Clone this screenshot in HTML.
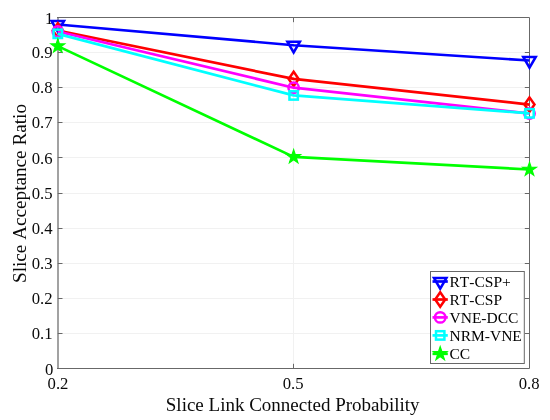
<!DOCTYPE html>
<html><head><meta charset="utf-8"><title>Slice Acceptance Ratio</title>
<style>
html,body{margin:0;padding:0;background:#fff;}
body{width:550px;height:420px;overflow:hidden;}
svg{display:block;}
text{font-family:"Liberation Serif","Times New Roman",serif;fill:#0a0a0a;font-kerning:none;}
.tk{font-size:16.7px;}
.lb{font-size:19px;}
.lg{font-size:15.5px;fill:#000;}
</style></head><body>
<svg width="550" height="420" viewBox="0 0 550 420">
<rect x="0" y="0" width="550" height="420" fill="#ffffff"/>
<g stroke="#f1f1f1" stroke-width="1"><line x1="57.8" y1="333.50" x2="529.5" y2="333.50"/><line x1="57.8" y1="298.50" x2="529.5" y2="298.50"/><line x1="57.8" y1="263.50" x2="529.5" y2="263.50"/><line x1="57.8" y1="228.50" x2="529.5" y2="228.50"/><line x1="57.8" y1="193.50" x2="529.5" y2="193.50"/><line x1="57.8" y1="157.50" x2="529.5" y2="157.50"/><line x1="57.8" y1="122.50" x2="529.5" y2="122.50"/><line x1="57.8" y1="87.50" x2="529.5" y2="87.50"/><line x1="57.8" y1="52.50" x2="529.5" y2="52.50"/><line x1="293.50" y1="17.5" x2="293.50" y2="368.5"/></g>
<line x1="58" y1="17.0" x2="58" y2="369.0" stroke="#a2a2a2" stroke-width="2"/>
<polyline points="57,17.5 529.5,17.5 529.5,368.5 57,368.5" fill="none" stroke="#686868" stroke-width="1"/>
<g stroke="#686868" stroke-width="1"><line x1="57.8" y1="333.50" x2="62.5" y2="333.50"/><line x1="529.5" y1="333.50" x2="524.8" y2="333.50"/><line x1="57.8" y1="298.50" x2="62.5" y2="298.50"/><line x1="529.5" y1="298.50" x2="524.8" y2="298.50"/><line x1="57.8" y1="263.50" x2="62.5" y2="263.50"/><line x1="529.5" y1="263.50" x2="524.8" y2="263.50"/><line x1="57.8" y1="228.50" x2="62.5" y2="228.50"/><line x1="529.5" y1="228.50" x2="524.8" y2="228.50"/><line x1="57.8" y1="193.50" x2="62.5" y2="193.50"/><line x1="529.5" y1="193.50" x2="524.8" y2="193.50"/><line x1="57.8" y1="157.50" x2="62.5" y2="157.50"/><line x1="529.5" y1="157.50" x2="524.8" y2="157.50"/><line x1="57.8" y1="122.50" x2="62.5" y2="122.50"/><line x1="529.5" y1="122.50" x2="524.8" y2="122.50"/><line x1="57.8" y1="87.50" x2="62.5" y2="87.50"/><line x1="529.5" y1="87.50" x2="524.8" y2="87.50"/><line x1="57.8" y1="52.50" x2="62.5" y2="52.50"/><line x1="529.5" y1="52.50" x2="524.8" y2="52.50"/><line x1="293.50" y1="17.5" x2="293.50" y2="22.2"/><line x1="293.50" y1="368.5" x2="293.50" y2="363.8"/></g>
<text class="tk" x="53.3" y="374.60" text-anchor="end">0</text><text class="tk" x="52.5" y="339.00" text-anchor="end">0.1</text><text class="tk" x="52.5" y="303.90" text-anchor="end">0.2</text><text class="tk" x="52.5" y="268.80" text-anchor="end">0.3</text><text class="tk" x="52.5" y="233.70" text-anchor="end">0.4</text><text class="tk" x="52.5" y="198.60" text-anchor="end">0.5</text><text class="tk" x="52.5" y="163.50" text-anchor="end">0.6</text><text class="tk" x="52.5" y="128.40" text-anchor="end">0.7</text><text class="tk" x="52.5" y="93.30" text-anchor="end">0.8</text><text class="tk" x="52.5" y="58.20" text-anchor="end">0.9</text><text class="tk" x="53.3" y="23.80" text-anchor="end">1</text><text class="tk" x="58.0" y="388.8" text-anchor="middle">0.2</text><text class="tk" x="293.2" y="388.8" text-anchor="middle">0.5</text><text class="tk" x="529.1" y="388.8" text-anchor="middle">0.8</text>
<text class="lb" x="292.7" y="410.6" text-anchor="middle">Slice Link Connected Probability</text>
<text class="lb" style="font-size:19.2px" transform="translate(25.8,193.50) rotate(-90)" text-anchor="middle">Slice Acceptance Ratio</text>
<polyline points="57.80,24.52 293.65,45.23 529.50,60.50" fill="none" stroke="#0000ff" stroke-width="2.7" stroke-linejoin="round"/>
<polygon points="51.55,20.92 64.05,20.92 57.80,31.72" fill="none" stroke="#0000ff" stroke-width="2.5"/>
<polygon points="287.40,41.63 299.90,41.63 293.65,52.43" fill="none" stroke="#0000ff" stroke-width="2.5"/>
<polygon points="523.25,56.90 535.75,56.90 529.50,67.70" fill="none" stroke="#0000ff" stroke-width="2.5"/>
<polyline points="57.80,30.49 293.65,78.93 529.50,104.55" fill="none" stroke="#ff0000" stroke-width="2.7" stroke-linejoin="round"/>
<polygon points="57.80,23.29 62.80,30.49 57.80,37.69 52.80,30.49" fill="none" stroke="#ff0000" stroke-width="2.5"/>
<polygon points="293.65,71.73 298.65,78.93 293.65,86.13 288.65,78.93" fill="none" stroke="#ff0000" stroke-width="2.5"/>
<polygon points="529.50,97.35 534.50,104.55 529.50,111.75 524.50,104.55" fill="none" stroke="#ff0000" stroke-width="2.5"/>
<polyline points="57.80,31.54 293.65,87.70 529.50,113.50" fill="none" stroke="#ff00ff" stroke-width="2.7" stroke-linejoin="round"/>
<circle cx="57.80" cy="31.54" r="5.2" fill="none" stroke="#ff00ff" stroke-width="2.5"/>
<circle cx="293.65" cy="87.70" r="5.2" fill="none" stroke="#ff00ff" stroke-width="2.5"/>
<circle cx="529.50" cy="113.50" r="5.2" fill="none" stroke="#ff00ff" stroke-width="2.5"/>
<polyline points="57.80,33.82 293.65,95.42 529.50,113.32" fill="none" stroke="#00ffff" stroke-width="2.7" stroke-linejoin="round"/>
<rect x="53.60" y="29.62" width="8.4" height="8.4" fill="none" stroke="#00ffff" stroke-width="2.5"/>
<rect x="289.45" y="91.22" width="8.4" height="8.4" fill="none" stroke="#00ffff" stroke-width="2.5"/>
<rect x="525.30" y="109.12" width="8.4" height="8.4" fill="none" stroke="#00ffff" stroke-width="2.5"/>
<polyline points="57.80,46.11 293.65,156.85 529.50,169.48" fill="none" stroke="#00ff00" stroke-width="2.7" stroke-linejoin="round"/>
<polygon points="57.80,38.91 59.45,43.84 64.65,43.88 60.46,46.97 62.03,51.93 57.80,48.91 53.57,51.93 55.14,46.97 50.95,43.88 56.15,43.84" fill="#00ff00" stroke="#00ff00" stroke-width="1.2" stroke-linejoin="miter"/>
<polygon points="293.65,149.65 295.30,154.58 300.50,154.62 296.31,157.71 297.88,162.67 293.65,159.65 289.42,162.67 290.99,157.71 286.80,154.62 292.00,154.58" fill="#00ff00" stroke="#00ff00" stroke-width="1.2" stroke-linejoin="miter"/>
<polygon points="529.50,162.28 531.15,167.22 536.35,167.26 532.16,170.35 533.73,175.31 529.50,172.28 525.27,175.31 526.84,170.35 522.65,167.26 527.85,167.22" fill="#00ff00" stroke="#00ff00" stroke-width="1.2" stroke-linejoin="miter"/>
<rect x="430.5" y="271.5" width="93.8" height="92.0" fill="#ffffff" stroke="#686868" stroke-width="1"/>
<line x1="432.5" y1="281.5" x2="447.8" y2="281.5" stroke="#0000ff" stroke-width="2.7"/>
<polygon points="433.95,277.90 446.45,277.90 440.20,288.70" fill="none" stroke="#0000ff" stroke-width="2.5"/>
<text class="lg" x="449.5" y="287.0">RT-CSP+</text>
<line x1="432.5" y1="299.5" x2="447.8" y2="299.5" stroke="#ff0000" stroke-width="2.7"/>
<polygon points="440.20,292.30 445.20,299.50 440.20,306.70 435.20,299.50" fill="none" stroke="#ff0000" stroke-width="2.5"/>
<text class="lg" x="449.5" y="305.0">RT-CSP</text>
<line x1="432.5" y1="317.4" x2="447.8" y2="317.4" stroke="#ff00ff" stroke-width="2.7"/>
<circle cx="440.20" cy="317.40" r="5.2" fill="none" stroke="#ff00ff" stroke-width="2.5"/>
<text class="lg" x="449.5" y="322.9">VNE-DCC</text>
<line x1="432.5" y1="335.4" x2="447.8" y2="335.4" stroke="#00ffff" stroke-width="2.7"/>
<rect x="436.00" y="331.20" width="8.4" height="8.4" fill="none" stroke="#00ffff" stroke-width="2.5"/>
<text class="lg" x="449.5" y="340.9">NRM-VNE</text>
<line x1="432.5" y1="353.8" x2="447.8" y2="353.8" stroke="#00ff00" stroke-width="2.7"/>
<polygon points="440.20,346.60 441.85,351.53 447.05,351.58 442.86,354.67 444.43,359.62 440.20,356.60 435.97,359.62 437.54,354.67 433.35,351.58 438.55,351.53" fill="#00ff00" stroke="#00ff00" stroke-width="1.2" stroke-linejoin="miter"/>
<text class="lg" x="449.5" y="359.3">CC</text>
</svg>
</body></html>
